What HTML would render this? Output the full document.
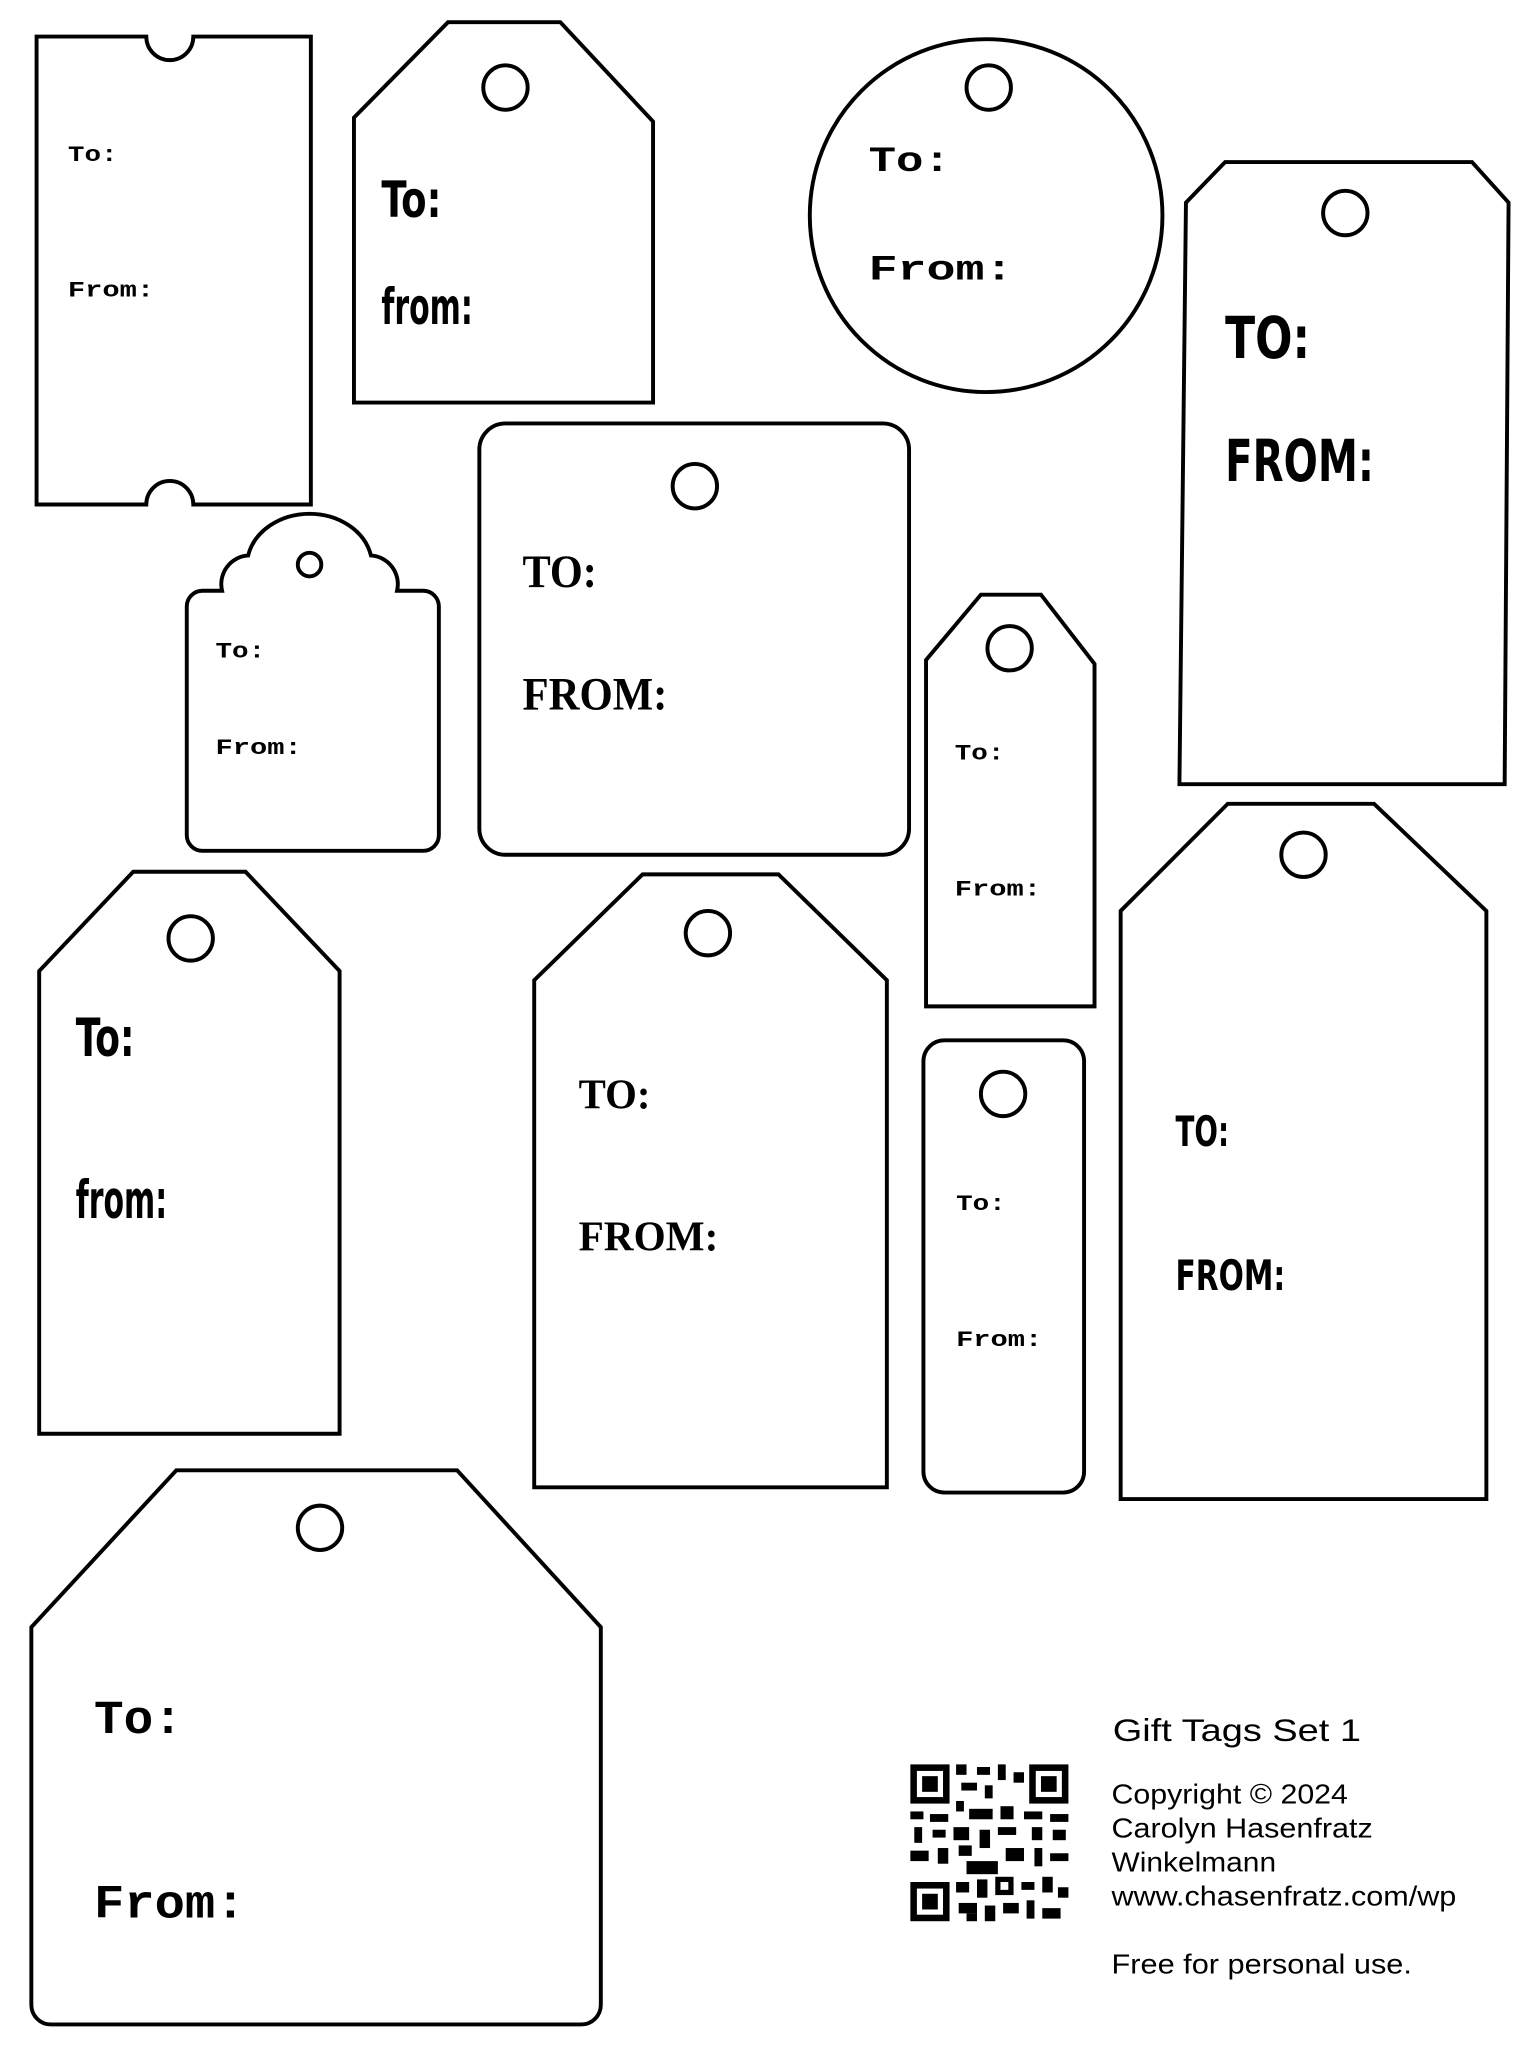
<!DOCTYPE html>
<html><head><meta charset="utf-8"><style>
html,body{margin:0;padding:0;background:#fff;}
svg{display:block;}
.m{font-family:"Liberation Mono",monospace;font-weight:bold;}
.n{font-family:"DejaVu Sans Condensed","Liberation Sans",sans-serif;font-weight:bold;}
.s{font-family:"Liberation Serif",serif;font-weight:bold;}
.h{font-family:"Liberation Sans",sans-serif;}
</style></head><body>
<svg width="1536" height="2048" viewBox="0 0 1176 1567" preserveAspectRatio="none" xmlns="http://www.w3.org/2000/svg">
<g fill="none" stroke="#000" stroke-width="3">
<path d="M28,28 H112 A18,18 0 0 0 148,28 H238 V386 H148 A18,18 0 0 0 112,386 H28 Z"/>
<path d="M271,90 L343,17 H429 L500,93 V308 H271 Z"/><circle cx="387" cy="67" r="17"/>
<circle cx="755" cy="165" r="135"/><circle cx="757" cy="67" r="17"/>
<path d="M908,155 L938,124 H1127 L1155,155 L1152,600 H903 Z"/><circle cx="1030" cy="163" r="17"/>
<path d="M155,452 H170 A22,22 0 0 1 190,425 A48,40 0 0 1 284,425 A22,22 0 0 1 304,452 H324 A12,12 0 0 1 336,464 V639 A12,12 0 0 1 324,651 H155 A12,12 0 0 1 143,639 V464 A12,12 0 0 1 155,452 Z"/><circle cx="237" cy="432" r="9"/>
<rect x="367" y="324" width="329" height="330" rx="20"/><circle cx="532" cy="372" r="17"/>
<path d="M709,505 L751,455 H797 L838,508 V770 H709 Z"/><circle cx="773" cy="496" r="17"/>
<path d="M30,743 L102,667 H188 L260,743 V1097 H30 Z"/><circle cx="146" cy="718" r="17"/>
<path d="M409,750 L492,669 H596 L679,750 V1138 H409 Z"/><circle cx="542" cy="714" r="17"/>
<rect x="707" y="796" width="123" height="346" rx="16"/><circle cx="768" cy="837" r="17"/>
<path d="M858,697 L940,615 H1052 L1138,697 V1147 H858 Z"/><circle cx="998" cy="654" r="17"/>
<path d="M24,1245 L135,1125 H350 L460,1245 V1534 A15,15 0 0 1 445,1549 H39 A15,15 0 0 1 24,1534 Z"/><circle cx="245" cy="1169" r="17"/>
</g>
<g fill="#000">
<text class="m" x="52" y="123" font-size="17" textLength="38" lengthAdjust="spacingAndGlyphs">To:</text>
<text class="m" x="52" y="227" font-size="17" textLength="66" lengthAdjust="spacingAndGlyphs">From:</text>
<text class="n" x="292" y="166" font-size="38" textLength="46" lengthAdjust="spacingAndGlyphs">To:</text>
<text class="n" x="292" y="248" font-size="38" textLength="70" lengthAdjust="spacingAndGlyphs">from:</text>
<text class="m" x="665" y="131" font-size="27" textLength="63" lengthAdjust="spacingAndGlyphs">To:</text>
<text class="m" x="665" y="214" font-size="27" textLength="111" lengthAdjust="spacingAndGlyphs">From:</text>
<text class="n" x="938" y="274" font-size="44" textLength="65" lengthAdjust="spacingAndGlyphs">TO:</text>
<text class="n" x="938" y="368" font-size="44" textLength="114" lengthAdjust="spacingAndGlyphs">FROM:</text>
<text class="m" x="165" y="503" font-size="17" textLength="38" lengthAdjust="spacingAndGlyphs">To:</text>
<text class="m" x="165" y="577" font-size="17" textLength="66" lengthAdjust="spacingAndGlyphs">From:</text>
<text class="s" x="400" y="449" font-size="36" textLength="57" lengthAdjust="spacingAndGlyphs">TO:</text>
<text class="s" x="400" y="543" font-size="36" textLength="111" lengthAdjust="spacingAndGlyphs">FROM:</text>
<text class="m" x="731" y="581" font-size="17" textLength="38" lengthAdjust="spacingAndGlyphs">To:</text>
<text class="m" x="731" y="685" font-size="17" textLength="66" lengthAdjust="spacingAndGlyphs">From:</text>
<text class="n" x="58" y="808" font-size="40" textLength="45" lengthAdjust="spacingAndGlyphs">To:</text>
<text class="n" x="58" y="932" font-size="40" textLength="70" lengthAdjust="spacingAndGlyphs">from:</text>
<text class="s" x="443" y="848" font-size="32" textLength="55" lengthAdjust="spacingAndGlyphs">TO:</text>
<text class="s" x="443" y="957" font-size="32" textLength="107" lengthAdjust="spacingAndGlyphs">FROM:</text>
<text class="m" x="732" y="926" font-size="17" textLength="38" lengthAdjust="spacingAndGlyphs">To:</text>
<text class="m" x="732" y="1030" font-size="17" textLength="66" lengthAdjust="spacingAndGlyphs">From:</text>
<text class="n" x="900" y="877" font-size="32" textLength="41" lengthAdjust="spacingAndGlyphs">TO:</text>
<text class="n" x="900" y="987" font-size="32" textLength="84" lengthAdjust="spacingAndGlyphs">FROM:</text>
<text class="m" x="72" y="1326" font-size="36" textLength="68" lengthAdjust="spacingAndGlyphs">To:</text>
<text class="m" x="72" y="1467" font-size="36" textLength="116" lengthAdjust="spacingAndGlyphs">From:</text>
<text class="h" x="852" y="1332" font-size="24" textLength="190" lengthAdjust="spacingAndGlyphs">Gift Tags Set 1</text>
<text class="h" x="851" y="1380" font-size="21" textLength="181" lengthAdjust="spacingAndGlyphs">Copyright © 2024</text>
<text class="h" x="851" y="1406" font-size="21" textLength="200" lengthAdjust="spacingAndGlyphs">Carolyn Hasenfratz</text>
<text class="h" x="851" y="1432" font-size="21" textLength="126" lengthAdjust="spacingAndGlyphs">Winkelmann</text>
<text class="h" x="851" y="1458" font-size="21" textLength="264" lengthAdjust="spacingAndGlyphs">www.chasenfratz.com/wp</text>
<text class="h" x="851" y="1510" font-size="21" textLength="230" lengthAdjust="spacingAndGlyphs">Free for personal use.</text>
</g>
<g>
<rect x="697" y="1350" width="30" height="30" fill="#000"/><rect x="702" y="1355" width="20" height="20" fill="#fff"/><rect x="706" y="1359" width="12" height="12" fill="#000"/>
<rect x="788" y="1350" width="30" height="30" fill="#000"/><rect x="793" y="1355" width="20" height="20" fill="#fff"/><rect x="797" y="1359" width="12" height="12" fill="#000"/>
<rect x="697" y="1440" width="30" height="30" fill="#000"/><rect x="702" y="1445" width="20" height="20" fill="#fff"/><rect x="706" y="1449" width="12" height="12" fill="#000"/>
<g fill="#000">
<rect x="732" y="1350" width="8" height="8"/><rect x="748" y="1352" width="10" height="6"/><rect x="764" y="1350" width="6" height="12"/><rect x="776" y="1356" width="8" height="8"/>
<rect x="736" y="1364" width="12" height="6"/><rect x="754" y="1366" width="6" height="10"/><rect x="732" y="1378" width="6" height="8"/>
<rect x="697" y="1386" width="10" height="6"/><rect x="712" y="1388" width="14" height="6"/><rect x="742" y="1384" width="18" height="8"/><rect x="766" y="1382" width="10" height="10"/><rect x="784" y="1386" width="14" height="6"/><rect x="804" y="1388" width="14" height="6"/>
<rect x="700" y="1398" width="6" height="12"/><rect x="714" y="1400" width="10" height="6"/><rect x="730" y="1398" width="12" height="10"/><rect x="750" y="1400" width="8" height="14"/><rect x="764" y="1398" width="14" height="6"/><rect x="790" y="1398" width="8" height="10"/><rect x="806" y="1400" width="10" height="8"/>
<rect x="697" y="1416" width="14" height="8"/><rect x="718" y="1414" width="8" height="12"/><rect x="734" y="1412" width="10" height="8"/><rect x="740" y="1424" width="24" height="10"/><rect x="770" y="1414" width="14" height="10"/><rect x="792" y="1414" width="6" height="14"/><rect x="804" y="1418" width="14" height="6"/>
<rect x="732" y="1440" width="10" height="8"/><rect x="748" y="1438" width="8" height="14"/><rect x="762" y="1436" width="14" height="14"/><rect x="766" y="1440" width="6" height="6" fill="#fff"/><rect x="782" y="1440" width="10" height="6"/><rect x="798" y="1436" width="8" height="12"/><rect x="810" y="1444" width="8" height="8"/>
<rect x="734" y="1456" width="14" height="8"/><rect x="754" y="1458" width="8" height="12"/><rect x="768" y="1456" width="12" height="8"/><rect x="786" y="1454" width="6" height="14"/><rect x="798" y="1460" width="14" height="8"/><rect x="740" y="1464" width="8" height="6"/>
</g>
</g>
</svg>
</body></html>
